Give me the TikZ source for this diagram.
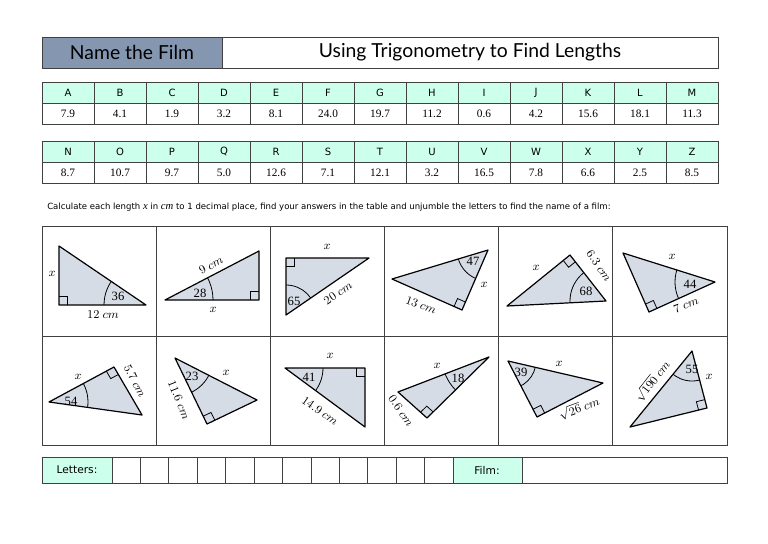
\documentclass[tikz,border=0pt]{standalone}
\usepackage{fontspec}
\setmainfont{Liberation Serif}
\newfontfamily\vf{DejaVu Sans}
\newfontfamily\hf{Lato}
\usetikzlibrary{calc}
\definecolor{mint}{HTML}{CCFFEC}
\definecolor{hdr}{HTML}{8496B0}
\definecolor{tri}{HTML}{D6DCE5}
\tikzset{cellbox/.style={draw=black!75,line width=0.6pt},
 lab/.style={font=\fontsize{9.5}{10}\selectfont,inner sep=0pt},
 ang/.style={font=\fontsize{9.5}{10}\selectfont,inner sep=0pt}}
\newcommand\mytri[5]{% right vertex, angle vertex, third, arc radius, name
 \coordinate (#5R) at #1; \coordinate (#5G) at #2; \coordinate (#5O) at #3;
 \fill[tri] (#5R)--(#5G)--(#5O)--cycle;
 \begin{scope}\clip (#5R)--(#5G)--(#5O)--cycle;
  \draw[line width=0.6pt] (#5G) circle [radius=#4*0.75pt];\end{scope}
 \coordinate (#5a) at ($(#5R)!6.5pt!(#5G)$);
 \coordinate (#5b) at ($(#5R)!6.5pt!(#5O)$);
 \draw[line width=0.6pt] (#5a) -- ($(#5a)+(#5b)-(#5R)$) -- (#5b);
 \draw[line width=0.9pt,line join=round] (#5R)--(#5G)--(#5O)--cycle;}
\begin{document}
\begin{tikzpicture}[x=0.75pt,y=-0.75pt]
\useasboundingbox (0,0) rectangle (768,543);
\fill[white] (0,0) rectangle (768,543);
% header
\draw[cellbox,fill=hdr] (42,37) rectangle (222,68);
\draw[cellbox] (222,37) rectangle (718,68);
\node[font=\hf\fontsize{14.5}{16}\selectfont] (ht) at (132,52.5) {Name the Film};
\node[font=\hf\fontsize{14.5}{16}\selectfont] (tt) at (470,52.5) {Using Trigonometry to Find Lengths};
% tables
\def\rowA{7.9,4.1,1.9,3.2,8.1,24.0,19.7,11.2,0.6,4.2,15.6,18.1,11.3}
\def\rowB{8.7,10.7,9.7,5.0,12.6,7.1,12.1,3.2,16.5,7.8,6.6,2.5,8.5}
\foreach \L [count=\i from 0] in {A,B,C,D,E,F,G,H,I,J,K,L,M}{
 \draw[cellbox,fill=mint] ({42+52*\i},82) rectangle ({94+52*\i},103);
 \node[font=\vf\fontsize{7.5}{8}\selectfont] (la\i) at ({68+52*\i},92.5) {\L};}
\foreach \v [count=\i from 0] in \rowA{
 \draw[cellbox] ({42+52*\i},103) rectangle ({94+52*\i},124);
 \node[font=\fontsize{8.5}{9}\selectfont] (va\i) at ({68+52*\i},113.5) {\v};}
\foreach \L [count=\i from 0] in {N,O,P,Q,R,S,T,U,V,W,X,Y,Z}{
 \draw[cellbox,fill=mint] ({42+52*\i},141) rectangle ({94+52*\i},162);
 \node[font=\vf\fontsize{7.5}{8}\selectfont] (lb\i) at ({68+52*\i},151.5) {\L};}
\foreach \v [count=\i from 0] in \rowB{
 \draw[cellbox] ({42+52*\i},162) rectangle ({94+52*\i},183);
 \node[font=\fontsize{8.5}{9}\selectfont] (vb\i) at ({68+52*\i},172.5) {\v};}
\node[anchor=west,font=\vf\fontsize{6.4}{7}\selectfont,inner sep=0pt] (ins) at (47,207)
 {Calculate each length {\fontspec{Liberation Serif}\itshape\fontsize{8}{8}\selectfont x} in {\fontspec{Liberation Serif}\itshape\fontsize{8}{8}\selectfont cm} to 1 decimal place, find your answers in the table and unjumble the letters to find the name of a film:};
% grid
\foreach \i in {0,...,5}{
 \draw[cellbox] ({42+114.17*\i},226) rectangle ({42+114.17*(\i+1)},336);
 \draw[cellbox] ({42+114.17*\i},336) rectangle ({42+114.17*(\i+1)},445);}
% row 1
\mytri{(59,305)}{(146,305)}{(59,246)}{42}{t1}
\node[lab] (t1x) at (52,274) {$x$};
\node[lab] (t1l) at (103,315) {$12\ cm$};
\node[ang] (t1g) at (118,296) {36};
\mytri{(259,300)}{(165,300)}{(259,251)}{48}{t2}
\node[lab,rotate=28] (t2l) at (211,265) {$9\ cm$};
\node[ang] (t2g) at (200,293) {28};
\node[lab] (t2x) at (213,310) {$x$};
\mytri{(286,258)}{(286,315)}{(369,258)}{30}{t3}
\node[lab] (t3x) at (327,247) {$x$};
\node[lab,rotate=35] (t3l) at (338,293) {$20\ cm$};
\node[ang] (t3g) at (294,301) {65};
\mytri{(462,310)}{(488,250)}{(392,279)}{31}{t4}
\node[ang] (t4g) at (473,261) {47};
\node[lab] (t4x) at (484,285) {$x$};
\node[lab,rotate=-20] (t4l) at (421,305) {$13\ cm$};
\mytri{(570,255)}{(606,301)}{(507,306)}{36}{t5}
\node[ang] (t5g) at (586,291) {68};
\node[lab] (t5x) at (536,268) {$x$};
\node[lab,rotate=-55] (t5l) at (599,266) {$6.3\ cm$};
\mytri{(649,312)}{(715,282)}{(623,253)}{40}{t6}
\node[ang] (t6g) at (690,284) {44};
\node[lab] (t6x) at (672,257) {$x$};
\node[lab,rotate=20] (t6l) at (686,305) {$7\ cm$};
% row 2
\mytri{(114,367)}{(49,402)}{(142,415)}{39}{t7}
\node[ang] (t7g) at (71,401) {54};
\node[lab] (t7x) at (78,377) {$x$};
\node[lab,rotate=-62] (t7l) at (135,381) {$5.7\ cm$};
\mytri{(207,424)}{(175,358)}{(257,400)}{38}{t8}
\node[ang] (t8g) at (192,376) {23};
\node[lab] (t8x) at (226,373) {$x$};
\node[lab,rotate=-68] (t8l) at (179,400) {$11.6\ cm$};
\mytri{(365,368)}{(285,368)}{(365,427)}{38}{t9}
\node[ang] (t9g) at (309,377) {41};
\node[lab] (t9x) at (330,356) {$x$};
\node[lab,rotate=-35] (t9l) at (320,411) {$14.9\ cm$};
\mytri{(427,418)}{(489,357)}{(398,392)}{47}{t10}
\node[ang] (t10g) at (458,378) {18};
\node[lab] (t10x) at (437,366) {$x$};
\node[lab,rotate=-55] (t10l) at (401,411) {$0.6\ cm$};
\mytri{(537,417)}{(508,361)}{(603,383)}{28}{t11}
\node[ang] (t11g) at (521,372) {39};
\node[lab] (t11x) at (559,364) {$x$};
\node[lab,rotate=20] (t11l) at (579,408) {$\sqrt{26}\ cm$};
\mytri{(707,408)}{(692,351)}{(630,427)}{30}{t12}
\node[ang] (t12g) at (692,369) {55};
\node[lab] (t12x) at (709,377) {$x$};
\node[lab,rotate=52] (t12l) at (652,381) {$\sqrt{190}\ cm$};
% bottom
\draw[cellbox,fill=mint] (42,457) rectangle (112,483);
\node[font=\vf\fontsize{8}{9}\selectfont] (let) at (77,470) {Letters:};
\foreach \i in {0,...,11}{\draw[cellbox] ({112+28.42*\i},457) rectangle ({112+28.42*(\i+1)},483);}
\draw[cellbox,fill=mint] (453,457) rectangle (522,483);
\node[font=\vf\fontsize{8}{9}\selectfont] (fil) at (487,470) {Film:};
\draw[cellbox] (522,457) rectangle (727,483);
\end{tikzpicture}
\end{document}
